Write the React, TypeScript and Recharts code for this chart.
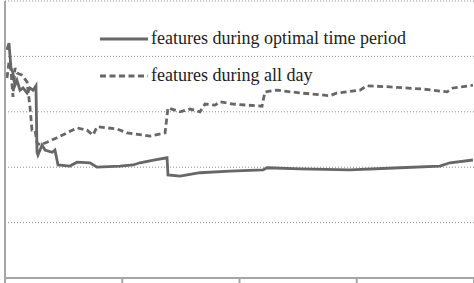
import { LineChart, Line, XAxis, YAxis, CartesianGrid } from 'recharts';

// readings (x: 0..400, y: 0..5 grid units)
const optimalX = [1.7, 3.4, 5.1, 6.8, 8.5, 10.2, 12.8, 15.4, 18.8, 21.3, 23.9, 26.4, 27.3, 28.1, 31.6, 34.1, 40.1, 42.6, 45.2, 55.4, 61.4, 72.5, 78.5, 98.1, 109.2, 115.1, 127.9, 138.2, 139.0, 149.3, 166.3, 191.9, 220.0, 223.5, 251.6, 294.2, 336.9, 371.0, 379.5, 399.1];
const optimalY = [4.12, 4.24, 3.79, 3.70, 3.48, 3.57, 3.39, 3.43, 3.34, 3.43, 3.39, 3.47, 2.27, 2.22, 2.40, 2.31, 2.27, 2.31, 2.04, 2.02, 2.09, 2.08, 2.00, 2.02, 2.04, 2.08, 2.13, 2.17, 1.86, 1.84, 1.90, 1.93, 1.95, 1.99, 1.97, 1.95, 1.99, 2.02, 2.08, 2.13];

const allDayX = [1.7, 3.4, 5.1, 6.8, 8.5, 10.2, 14.5, 18.8, 21.3, 23.0, 25.6, 27.3, 29.9, 35.8, 44.3, 52.9, 61.4, 69.9, 75.1, 78.5, 87.0, 95.5, 104.1, 123.7, 136.5, 139.0, 149.3, 157.8, 166.3, 170.6, 179.1, 183.4, 194.5, 219.2, 221.7, 232.0, 251.6, 262.7, 277.2, 283.2, 302.8, 308.7, 328.4, 356.5, 377.0, 382.1, 399.1];
const allDayY = [3.61, 3.90, 3.75, 3.27, 3.79, 3.70, 3.66, 3.54, 3.09, 2.67, 2.67, 2.44, 2.40, 2.45, 2.53, 2.62, 2.71, 2.67, 2.58, 2.73, 2.71, 2.69, 2.62, 2.56, 2.62, 3.07, 3.00, 3.05, 3.00, 3.14, 3.12, 3.18, 3.14, 3.10, 3.36, 3.39, 3.34, 3.32, 3.29, 3.34, 3.39, 3.47, 3.45, 3.41, 3.36, 3.43, 3.48];

const xTicks = [0, 100, 200, 300, 400];
const yTicks = [0, 1, 2, 3, 4, 5];

const optimal = optimalX.map((x, i) => ({ x, y: optimalY[i] }));
const allDay = allDayX.map((x, i) => ({ x, y: allDayY[i] }));

const LINE = '#676767';
const AXIS = '#a6a6a6';

function LegendBox() {
  const row = { display: 'flex', alignItems: 'center', height: 37 };
  const text = { fontFamily: '"Liberation Serif", serif', fontSize: 18, color: '#222', marginLeft: 3 };
  return (
    <div style={{ position: 'absolute', left: 100, top: 20 }}>
      <div style={row}>
        <svg width={48} height={4}>
          <line x1={0} y1={2} x2={48} y2={2} stroke={LINE} strokeWidth={2.8} />
        </svg>
        <span style={text}>features during optimal time period</span>
      </div>
      <div style={row}>
        <svg width={48} height={4}>
          <line x1={0} y1={2} x2={48} y2={2} stroke={LINE} strokeWidth={2.8} strokeDasharray="6 3.5" />
        </svg>
        <span style={text}>features during all day</span>
      </div>
    </div>
  );
}

export default function App() {
  return (
    <div style={{ position: 'absolute', left: 0, top: 0, width: 474, height: 283, background: '#fff' }}>
      <LineChart width={474} height={283} margin={{ top: 1, right: 0, bottom: 0, left: 4 }}>
        <CartesianGrid vertical={false} horizontal stroke="#8c8c8c" strokeDasharray="1 2" />
        <XAxis
          type="number"
          dataKey="x"
          domain={[0, 400]}
          ticks={xTicks}
          height={5}
          tickSize={5}
          tick={() => <g />}
          axisLine={{ stroke: AXIS, strokeWidth: 2 }}
          tickLine={{ stroke: AXIS, strokeWidth: 2 }}
          allowDataOverflow
        />
        <YAxis
          type="number"
          domain={[0, 5]}
          ticks={yTicks}
          width={1}
          tickSize={0}
          tick={() => <g />}
          tickLine={false}
          axisLine={{ stroke: AXIS, strokeWidth: 2 }}
        />
        <Line data={optimal} dataKey="y" type="linear" stroke={LINE} strokeWidth={2.8} dot={false} isAnimationActive={false} />
        <Line data={allDay} dataKey="y" type="linear" stroke={LINE} strokeWidth={2.8} strokeDasharray="6 3.5" dot={false} isAnimationActive={false} />
      </LineChart>
      <LegendBox />
    </div>
  );
}
